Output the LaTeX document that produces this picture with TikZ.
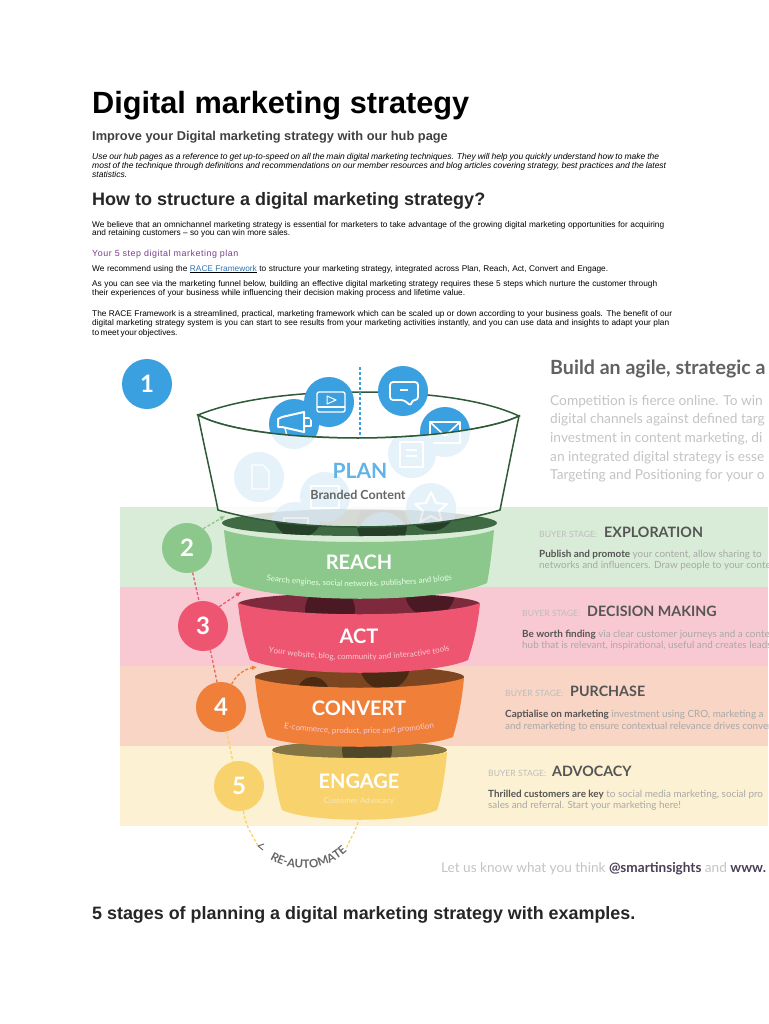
\documentclass[tikz,border=0pt]{standalone}
\usepackage{fontspec}
\setmainfont{Liberation Sans}
\newfontfamily\info{Lato}
\newfontfamily\purplefont[LetterSpace=6]{Liberation Sans}
\usetikzlibrary{decorations.text,arrows.meta}
\newcommand\myfs[1]{\fontsize{#1}{#1}\selectfont}
\definecolor{bandg}{HTML}{D9ECD7}\definecolor{bandp}{HTML}{F9C9D3}
\definecolor{bando}{HTML}{F8D5C4}\definecolor{bandy}{HTML}{FDF1D3}
\definecolor{cblue}{HTML}{3BA0E0}\definecolor{cgreen}{HTML}{8CC78C}
\definecolor{cred}{HTML}{EE5570}\definecolor{corange}{HTML}{F08039}
\definecolor{cyellow}{HTML}{F8D26C}\definecolor{rimc}{HTML}{2F5A38}
\definecolor{dgreen}{HTML}{3F6A44}\definecolor{dred}{HTML}{7D2A3C}
\definecolor{dorange}{HTML}{7D4620}\definecolor{dyellow}{HTML}{857444}
\definecolor{infogray}{HTML}{C4C4C4}\definecolor{stagegray}{HTML}{BDBDBD}
\definecolor{headgray}{HTML}{555555}\definecolor{bodygray}{HTML}{A8A8A8}
\definecolor{boldgray}{HTML}{555555}\definecolor{linkblue}{HTML}{2E74B5}
\definecolor{purp}{HTML}{7B3F8C}\definecolor{footdark}{HTML}{4A3F55}
\newcommand\frontpath{(198,415) .. controls (230,432) and (300,438) .. (358,438) .. controls (420,438) and (490,430) .. (519,416) .. controls (512,450) and (506,480) .. (500,510) .. controls (460,522) and (410,527) .. (358,527) .. controls (310,527) and (260,522) .. (218,510) .. controls (212,480) and (205,450) .. (198,415) -- cycle}
\tikzset{
  txt/.style={inner sep=0pt,anchor=base west,text=black},
  numc/.style={circle,minimum size=50pt,inner sep=0pt,text=white,font=\info\bfseries\myfs{24}},
  funlabel/.style={inner sep=0pt,text=white,font=\info\bfseries\myfs{20}},
  stage/.style={inner sep=0pt,anchor=base west,text=stagegray,font=\info\myfs{8.6}},
  stagehead/.style={inner sep=0pt,anchor=base west,text=headgray,font=\info\bfseries\myfs{14.3}},
  stagebody/.style={inner sep=0pt,anchor=base west,text=bodygray,font=\info\myfs{9.9}},
  intro/.style={inner sep=0pt,anchor=base west,text=infogray,font=\info\myfs{13.7}},
  conn/.style={densely dashed,line width=1.3pt},
  tipped/.style={-{Latex[length=5pt,width=5pt]}},
  icon/.style={draw=white,line width=1.4pt,line join=round},
}
\begin{document}
\begin{tikzpicture}[x=1pt,y=-1pt]
\useasboundingbox (0,0) rectangle (768,1024);
\clip (0,0) rectangle (768,1024);
\fill[white] (0,0) rectangle (768,1024);

% page text
\node[txt,font=\bfseries\myfs{30.7}] (title) at (92,114) {Digital marketing strategy};
\node[txt,font=\bfseries\myfs{12.8},text=black!75] (sub) at (92,141) {Improve your Digital marketing strategy with our hub page};
\begin{scope}[every node/.append style={txt,font=\itshape\myfs{8.5}}]
\node (i1) at (92,160) {\makebox[567pt][s]{Use our hub pages as a reference to get up-to-speed on all the main digital marketing techniques. They will help you quickly understand how to make the}};
\node (i2) at (92,169) {\makebox[574pt][s]{most of the technique through definitions and recommendations on our member resources and blog articles covering strategy, best practices and the latest}};
\node (i3) at (92,178) {statistics.};
\end{scope}
\node[txt,font=\bfseries\myfs{18},text=black!85] (h2) at (92,206) {How to structure a digital marketing strategy?};
\begin{scope}[every node/.append style={txt,font=\myfs{8.3}}]
\node (p1) at (92,227) {\makebox[572pt][s]{We believe that an omnichannel marketing strategy is essential for marketers to take advantage of the growing digital marketing opportunities for acquiring}};
\node (p2) at (92,236) {\makebox[198pt][s]{and retaining customers – so you can win more sales.}};
\node (p3) at (92,271) {\makebox[516pt][s]{We recommend using the \underline{\textcolor{linkblue}{RACE Framework}} to structure your marketing strategy, integrated across Plan, Reach, Act, Convert and Engage.}};
\node (p4) at (92,286) {\makebox[565pt][s]{As you can see via the marketing funnel below, building an effective digital marketing strategy requires these 5 steps which nurture the customer through}};
\node (p5) at (92,295) {\makebox[373pt][s]{their experiences of your business while influencing their decision making process and lifetime value.}};
\node (p6) at (92,316) {\makebox[580pt][s]{The RACE Framework is a streamlined, practical, marketing framework which can be scaled up or down according to your business goals. The benefit of our}};
\node (p7) at (92,325) {\makebox[577pt][s]{digital marketing strategy system is you can start to see results from your marketing activities instantly, and you can use data and insights to adapt your plan}};
\node (p8) at (92,335) {\makebox[85pt][s]{to meet your objectives.}};
\end{scope}
\node[txt,text=purp,font=\purplefont\myfs{8.9}] (purple) at (92,256) {Your 5 step digital marketing plan};
\node[txt,font=\bfseries\myfs{17.9},text=black!85] (last) at (92,919) {5 stages of planning a digital marketing strategy with examples.};

% bands
\fill[bandg] (120,507) rectangle (768,587);
\fill[bandp] (120,587) rectangle (768,666);
\fill[bando] (120,666) rectangle (768,746);
\fill[bandy] (120,746) rectangle (768,826);

% ENGAGE
\fill[dyellow] (359.5,750) ellipse [x radius=87.5,y radius=9];
\begin{scope}\clip (359.5,750) ellipse [x radius=87.5,y radius=9];
\fill[dyellow!60!black] (367,750) circle (25);\end{scope}
\fill[cyellow] (272,752) .. controls (300,760) and (420,760) .. (447,752) .. controls (445,775) and (442,795) .. (437,810) .. controls (410,823) and (310,823) .. (282,810) .. controls (277,795) and (274,775) .. (272,752) -- cycle;
% CONVERT
\fill[dorange] (359.5,677) ellipse [x radius=104.5,y radius=11];
\begin{scope}\clip (359.5,677) ellipse [x radius=104.5,y radius=11];
\fill[dorange!60!black] (313,693) circle (16);\fill[dorange!60!black] (385,665) circle (25);\end{scope}
\fill[corange] (255,678) .. controls (290,691) and (430,691) .. (464,678) .. controls (462,700) and (458,720) .. (453,737) .. controls (420,750) and (300,750) .. (267,737) .. controls (261,720) and (257,700) .. (255,678) -- cycle;
% ACT
\fill[dred] (359,604) ellipse [x radius=121,y radius=11];
\begin{scope}\clip (359,604) ellipse [x radius=121,y radius=11];
\fill[dred!60!black] (330,610) circle (25);\fill[dred!60!black] (430,592) circle (25);\end{scope}
\fill[cred] (238,603) .. controls (280,618) and (440,618) .. (480,603) .. controls (478,625) and (473,645) .. (468,660) .. controls (430,677) and (290,677) .. (250,660) .. controls (245,645) and (240,625) .. (238,603) -- cycle;
% REACH
\fill[dgreen] (359.5,523) ellipse [x radius=137.5,y radius=13];
\begin{scope}\clip (359.5,523) ellipse [x radius=137.5,y radius=13];
\fill[dgreen!60!black] (298,513) circle (25);\fill[dgreen!60!black] (382,525) circle (25);\fill[dgreen!60!black] (431,506) circle (25);\end{scope}
\fill[cgreen] (224,530) .. controls (270,546) and (450,546) .. (494,530) .. controls (492,550) and (490,568) .. (487,583) .. controls (440,604) and (280,604) .. (233,583) .. controls (229,568) and (226,550) .. (224,530) -- cycle;

% bowl interior and back rim
\filldraw[fill=white,draw=rimc,line width=1.5pt] (198,415) .. controls (240,398) and (300,392) .. (358,392) .. controls (420,392) and (480,398) .. (519,416) .. controls (490,430) and (420,438) .. (358,438) .. controls (300,438) and (230,432) .. (198,415) -- cycle;
\draw[cblue,line width=1.3pt,densely dashed] (360,367) -- (360,436);
% coloured icon discs
\fill[cblue] (294,424) circle (25);
\draw[icon,line width=2pt] (278,419) -- (282,417) -- (304,412) -- (304,432) -- (282,427) -- (278,427) -- cycle;
\draw[icon] (304,418) -- (311,418) -- (311,426) -- (304,426);
\draw[icon] (285,428) -- (287,436);
\fill[cblue] (329,402) circle (25);
\draw[icon,rounded corners=2pt] (317,392) rectangle (345,412);
\draw[icon] (317,407) -- (345,407);
\draw[icon,line width=1pt] (327,396) -- (336,400) -- (327,404) -- cycle;
\fill[cblue] (403,391) circle (25);
\draw[icon,line width=1.8pt,rounded corners=3pt] (390,382) -- (418,382) -- (418,400) -- (412,400) -- (411,406) -- (404,400) -- (390,400) -- cycle;
\draw[icon] (400,390) -- (408,390);
\fill[cblue] (445,432) circle (25);
\draw[icon,line width=1.6pt] (430,422) rectangle (460,443);
\draw[icon,line width=1.6pt] (430,422) -- (445,436) -- (460,422);
% pale discs, only inside the front of the bowl
\begin{scope}
\clip \frontpath;
\fill[cblue] (259,477) circle (25);
\fill[cblue] (325,497) circle (25);
\fill[cblue] (295,527) circle (25);
\fill[cblue] (383,537) circle (25);
\fill[cblue] (412,454) circle (24);
\fill[cblue] (431,508) circle (25);
\draw[icon] (252,465) -- (263,465) -- (269,471) -- (269,489) -- (252,489) -- cycle;
\draw[icon] (400,442) rectangle (423,467);
\draw[icon] (406,450) -- (417,450) (406,456) -- (417,456);
\draw[icon] (311,486) rectangle (339,508);
\draw[icon] (284,518) rectangle (308,530);
\draw[icon,line width=2pt] (431,492) -- (436,503) -- (447,504) -- (439,511) -- (442,522) -- (431,516) -- (420,522) -- (423,511) -- (415,504) -- (426,503) -- cycle;
\end{scope}
% front veil of the bowl
\fill[white,opacity=.87] \frontpath;
\begin{scope}\clip \frontpath;
\fill[black,opacity=.07] (358,522) ellipse [x radius=130,y radius=13];
\end{scope}
\draw[rimc,line width=1.5pt] \frontpath;

% funnel labels
\node[inner sep=0pt,text=cblue!80!white,font=\info\bfseries\myfs{21}] (plan) at (360,471) {PLAN};
\node[inner sep=0pt,text=black!60,font=\info\bfseries\myfs{12.5}] (branded) at (358,495) {Branded Content};
\node[funlabel] (reach) at (359,562) {REACH};
\node[funlabel] (act) at (359,636) {ACT};
\node[funlabel] (convert) at (359,708) {CONVERT};
\node[funlabel] (engage) at (359,781) {ENGAGE};
\path[decorate,decoration={text along path,text align=center,text color=green!10!white,text={|\info\myfs{8}|Search engines, social networks, publishers and blogs}}] (240,576) .. controls (300,590) and (420,590) .. (478,574);
\path[decorate,decoration={text along path,text align=center,text color=bandp,text={|\info\myfs{8}|Your website, blog, community and interactive tools}}] (250,648) .. controls (310,664) and (410,664) .. (468,646);
\path[decorate,decoration={text along path,text align=center,text color=bandp,text={|\info\myfs{8}|E-commerce, product, price and promotion}}] (266,725) .. controls (320,737) and (400,737) .. (452,724);
\node[inner sep=0pt,text=bandy!70!cyellow,font=\info\myfs{8}] (cadv) at (359,801) {Customer Advocacy};

% number discs
\node[numc,fill=cblue] (c1) at (147,384) {1};
\node[numc,fill=cgreen] (c2) at (187,548) {2};
\node[numc,fill=cred] (c3) at (203,626) {3};
\node[numc,fill=corange] (c4) at (221,707) {4};
\node[numc,fill=cyellow] (c5) at (239,786) {5};

% connectors
\coordinate (gend) at (225,516);
\coordinate (rend) at (241,592);
\coordinate (oend) at (257,667);
\coordinate (autotip) at (258,846);
\coordinate (autoright) at (346,849);
\coordinate (engbot) at (358,822);
\draw[conn,tipped,cgreen] (c2.50) -- (gend);
\draw[conn,cred] (c2.-77) -- (c3.99);
\draw[conn,tipped,cred] (c3.50) -- (rend);
\draw[conn,cred!70!corange] (c3.-73) -- (c4.99);
\draw[conn,tipped,corange] (c4.65) .. controls +(5,-10) and +(-12,2) .. (oend);
\draw[conn,cyellow] (c4.-77) -- (c5.104);
\draw[conn,cyellow] (c5.-80) .. controls +(3,18) and +(-6,-12) .. (autotip);
\draw[conn,cyellow] (engbot) .. controls +(-2,8) and +(3,-8) .. (autoright);
\draw[line width=1pt,black!60] (autotip) -- +(5,4) (autotip) -- +(6,-2);
\path[decorate,decoration={text along path,text align=center,text color=black!60,text={|\info\bfseries\myfs{11.5}|RE-AUTOMATE}}] (264,855) .. controls (288,874) and (328,874) .. (352,846);

% right column
\node[inner sep=0pt,anchor=base west,text=black!62,font=\info\bfseries\myfs{19.6}] (bt) at (550,374) {Build an agile, strategic a};
\node[intro] (l1) at (550,405) {Competition is fierce online. To win};
\node[intro] (l2) at (550,423) {digital channels against defined targ};
\node[intro] (l3) at (550,442) {investment in content marketing, di};
\node[intro] (l4) at (550,461) {an integrated digital strategy is esse};
\node[intro] (l5) at (550,479) {Targeting and Positioning for your o};

\node[stage] (s1) at (539,537) {BUYER STAGE:};
\node[stagehead] (s1h) at (604,537) {EXPLORATION};
\node[stagebody] (s1a) at (539,557) {\textbf{\textcolor{boldgray}{Publish and promote}} your content, allow sharing to};
\node[stagebody] (s1b) at (539,568) {networks and influencers. Draw people to your conten};

\node[stage] (s2) at (522,616) {BUYER STAGE:};
\node[stagehead] (s2h) at (587,616) {DECISION MAKING};
\node[stagebody] (s2a) at (522,637) {\textbf{\textcolor{boldgray}{Be worth finding}} via clear customer journeys and a conte};
\node[stagebody] (s2b) at (522,648) {hub that is relevant, inspirational, useful and creates leads};

\node[stage] (s3) at (505,696) {BUYER STAGE:};
\node[stagehead] (s3h) at (570,696) {PURCHASE};
\node[stagebody] (s3a) at (505,717) {\textbf{\textcolor{boldgray}{Captialise on marketing}} investment using CRO, marketing a};
\node[stagebody] (s3b) at (505,729) {and remarketing to ensure contextual relevance drives conver};

\node[stage] (s4) at (488,776) {BUYER STAGE:};
\node[stagehead] (s4h) at (552,776) {ADVOCACY};
\node[stagebody] (s4a) at (488,797) {\textbf{\textcolor{boldgray}{Thrilled customers are key}} to social media marketing, social pro};
\node[stagebody] (s4b) at (488,808) {sales and referral. Start your marketing here!};

\node[inner sep=0pt,anchor=base west,text=infogray,font=\info\myfs{13.6}] (foot) at (441,872) {Let us know what you think \textbf{\textcolor{footdark}{@smartinsights}} and \textbf{\textcolor{footdark}{www.}}};
\end{tikzpicture}
\end{document}
